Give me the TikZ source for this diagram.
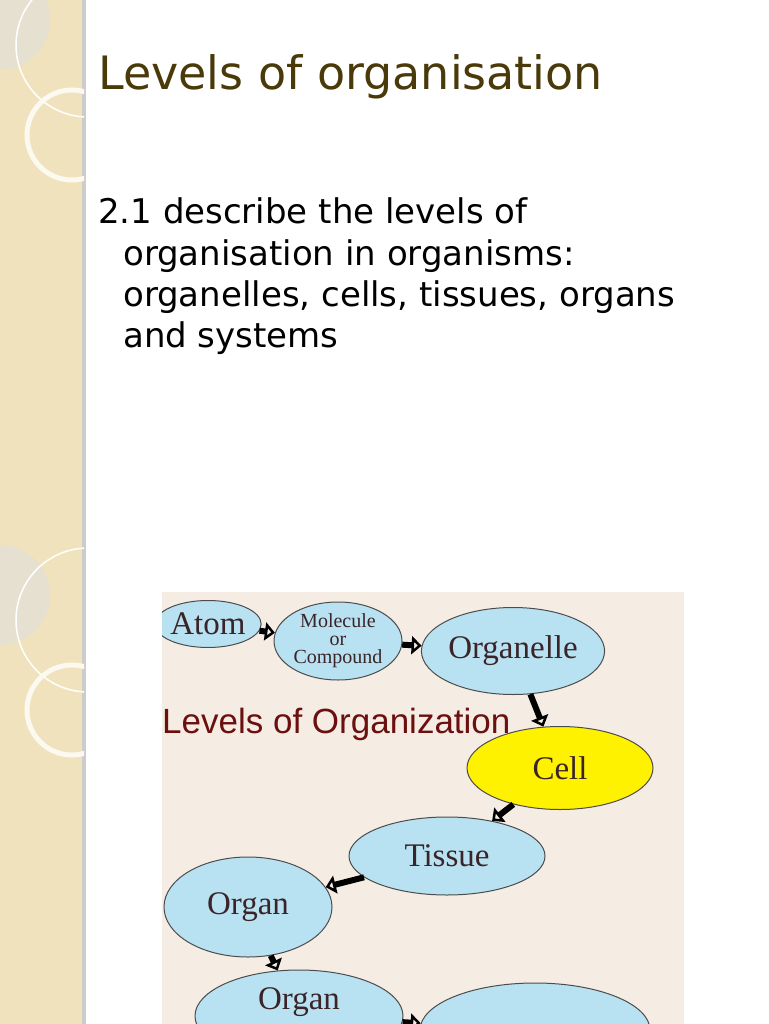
\documentclass[tikz,border=0pt]{standalone}
\usepackage{fontspec}
\setmainfont{DejaVu Sans}
\newfontfamily\serifbox{Liberation Serif}
\newfontfamily\arialbox{Liberation Sans}
\usetikzlibrary{arrows.meta}
\usetikzlibrary{shapes.geometric}
\definecolor{stripbg}{HTML}{F0E2BC}
\definecolor{titlecol}{HTML}{4A3A0A}
\definecolor{panelbg}{HTML}{F5ECE4}
\definecolor{blobblue}{HTML}{B8E2F2}
\definecolor{blobtext}{HTML}{3A2428}
\definecolor{headred}{HTML}{6B0F0F}
\begin{document}
\begin{tikzpicture}[x=1pt,y=-1pt]
		\tikzset{blob/.style={shape = ellipse, draw = black!70, line width = 1pt, fill = blobblue, text = blobtext, font = \serifbox\fontsize{33}{33}\selectfont}}
		\tikzset{flow/.style={-{Triangle[open, length=10pt, width=18pt, line width=3pt]}, line width = 6pt, black}}
		\useasboundingbox (0,0) rectangle (768,1024);
		%side strip
		\fill[white] (0,0) rectangle (768,1024);
		\fill[stripbg] (0,0) rectangle (84,1024);
		\fill[black!20] (82,0) rectangle (86,1024);
		\begin{scope}
		\clip (0,0) rectangle (84,1024);
		\foreach \y in {0, 575} {
			\fill[black!12, opacity=0.6] (0,\y+20) circle (50);
			\draw[white, line width = 1.5pt] (88,\y+45) circle (72);
			\draw[white!80!stripbg, line width = 5pt] (72,\y+135) circle (45);
		}
		\end{scope}
		%texts
		\node[anchor = base west, text = titlecol, font = \fontsize{46}{46}\selectfont, inner sep = 0] (title) at (98,90) {Levels of organisation};
		\node[anchor = base west, font = \fontsize{34}{34}\selectfont, inner sep = 0] (spec) at (98,224) {2.1 describe the levels of};
		\foreach \t [count = \i] in {organisation in organisms:, {organelles, cells, tissues, organs}, and systems}
			\node[anchor = base west, font = \fontsize{34}{34}\selectfont, inner sep = 0] (spec\i) at (123,224+41*\i) {\t};
		%picture panel
		\fill[panelbg] (162,592) rectangle (684,1024);
		\begin{scope}
		\clip (162,592) rectangle (684,1024);
		\node[blob, minimum width = 90, minimum height = 47, inner sep = 0] (atom) at (208,624) {Atom};
		\node[blob, minimum width = 128, minimum height = 78, align = center, inner sep = 0, font = \serifbox\fontsize{20}{18}\selectfont] (mol) at (338,641) {Molecule\\or\\Compound};
		\node[blob, minimum width = 170, minimum height = 87, inner sep = 0] (organelle) at (513,651) {Organelle};
		\node[blob, fill = yellow, minimum width = 186, minimum height = 83] (cell) at (560,768) {Cell};
		\node[blob, minimum width = 196, minimum height = 78] (tissue) at (447,856) {Tissue};
		\node[blob, minimum width = 168, minimum height = 100] (organ) at (248,907) {Organ};
		\node[blob, minimum width = 208, minimum height = 92] (organ2) at (299,1016) {};
		\node[text = blobtext, font = \serifbox\fontsize{33}{33}\selectfont] (organ2text) at (299,1002) {Organ};
		\node[blob, minimum width = 230, minimum height = 94] (system) at (535,1030) {};
		\node[anchor = base west, text = headred, font = \arialbox\fontsize{35}{35}\selectfont, inner sep = 0] (head) at (162,733) {Levels of Organization};
		%arrows
		\draw[flow] (atom) -- (mol);
		\draw[flow] (mol) -- (organelle);
		\draw[flow] (organelle) -- (cell);
		\draw[flow] (cell) -- (tissue);
		\draw[flow] (tissue) -- (organ);
		\draw[flow] (organ) -- (organ2);
		\draw[flow] (organ2) -- (system);
		\end{scope}
\end{tikzpicture}
\end{document}
